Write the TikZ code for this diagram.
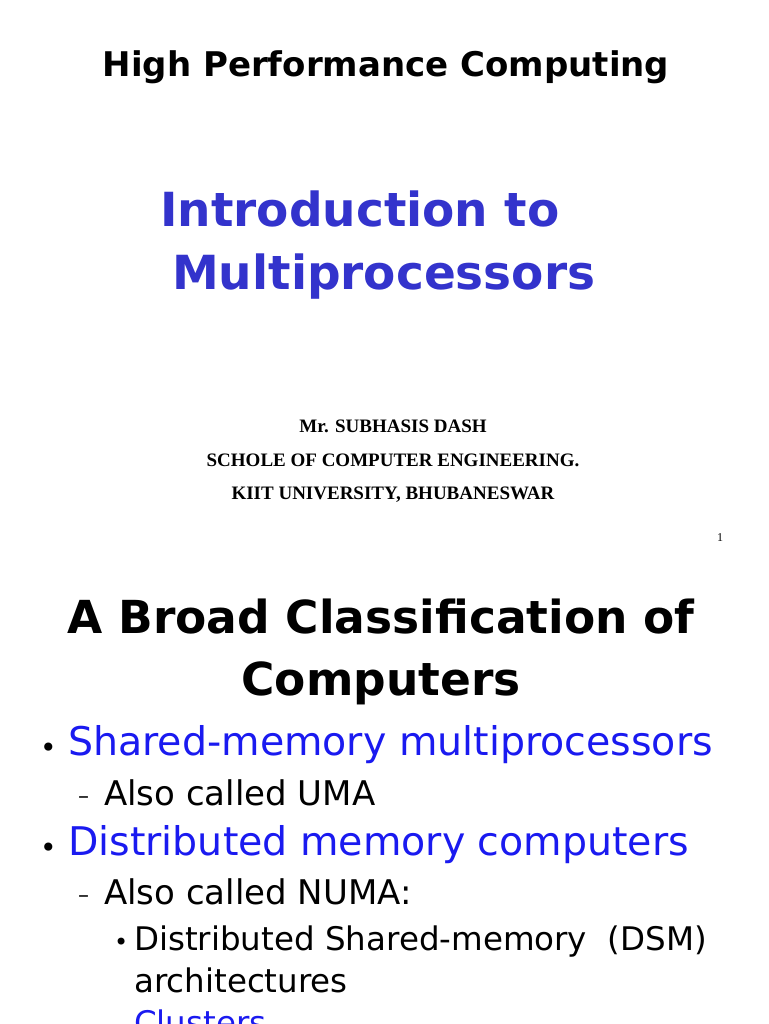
\documentclass[tikz,border=0pt]{standalone}
\usepackage{fontspec}
\setmainfont{DejaVu Sans}
\newfontfamily\serifb{Liberation Serif}
\definecolor{tblue}{HTML}{3333CC}
\definecolor{bblue}{HTML}{1A1AF0}
\begin{document}
\begin{tikzpicture}[x=1pt,y=-1pt,
  txt/.style={inner sep=0pt,anchor=base west},
  ctr/.style={inner sep=0pt,anchor=base}]
\useasboundingbox[fill=white] (0,0) rectangle (768,1024);
\node[ctr] (t1) at (386,77) {\bfseries\fontsize{34}{40}\selectfont High Performance Computing};
\node[txt,text=tblue] (t2) at (160,226) {\bfseries\fontsize{47}{56}\selectfont Introduction to};
\node[txt,text=tblue] (t3) at (172,289) {\bfseries\fontsize{47}{56}\selectfont Multiprocessors};
\node[ctr] (a1) at (393,432) {\serifb\bfseries\fontsize{19}{20}\selectfont M\textsc{r}. SUBHASIS DASH};
\node[ctr] (a2) at (393,466) {\serifb\bfseries\fontsize{19}{20}\selectfont SCHOLE OF COMPUTER ENGINEERING.};
\node[ctr] (a3) at (393,499) {\serifb\bfseries\fontsize{19}{20}\selectfont KIIT UNIVERSITY, BHUBANESWAR};
\node[ctr] (pg) at (720,541) {\serifb\fontsize{12}{12}\selectfont 1};
\node[ctr] (h1) at (381,633) {\bfseries\fontsize{45.5}{54}\selectfont A Broad Classification of};
\node[ctr] (h2) at (381,695) {\bfseries\fontsize{45.5}{54}\selectfont Computers};
\node[txt] (b1) at (40,757) {\fontsize{28}{24}\selectfont •};
\node[txt,text=bblue] (s1) at (68,755) {\fontsize{39.5}{42}\selectfont Shared-memory multiprocessors};
\node[txt] (d1) at (78,803) {\fontsize{22}{24}\selectfont –};
\node[txt] (s2) at (104,805) {\fontsize{34}{38}\selectfont Also called UMA};
\node[txt] (b2) at (40,857) {\fontsize{28}{24}\selectfont •};
\node[txt,text=bblue] (s3) at (68,855) {\fontsize{39.5}{42}\selectfont Distributed memory computers};
\node[txt] (d2) at (78,902) {\fontsize{22}{24}\selectfont –};
\node[txt] (s4) at (104,904) {\fontsize{34}{38}\selectfont Also called NUMA:};
\node[txt] (b3) at (114,950) {\fontsize{24}{20}\selectfont •};
\node[txt] (s5) at (134,950) {\fontsize{32.5}{34}\selectfont Distributed Shared-memory\ \ (DSM)};
\node[txt] (s6) at (134,992) {\fontsize{32.5}{34}\selectfont architectures};
\node[txt,text=bblue] (s7) at (134,1034) {\fontsize{32.5}{34}\selectfont Clusters};
\end{tikzpicture}
\end{document}
